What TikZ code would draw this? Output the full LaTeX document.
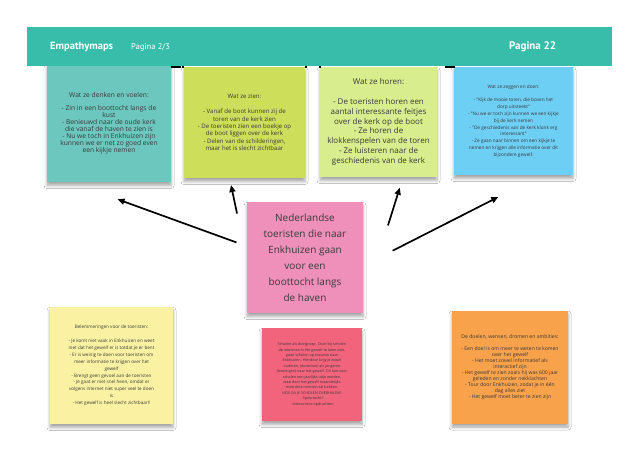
\documentclass[tikz,border=0pt]{standalone}
\usepackage{fontspec}
\setmainfont{Open Sans}
\newfontfamily\headfont{PT Sans}
\usepackage{xcolor}
\usepackage{tikz}
\usetikzlibrary{arrows.meta, shadows.blur}
\definecolor{headbar}{HTML}{38BDAA}
\definecolor{notetext}{HTML}{3A3A3A}
\definecolor{thinkbg}{HTML}{6CC8BF}
\definecolor{seebg}{HTML}{CDDE5A}
\definecolor{hearbg}{HTML}{D8EE8E}
\definecolor{saybg}{HTML}{6ECFF5}
\definecolor{userbg}{HTML}{EE90BA}
\definecolor{painbg}{HTML}{FAF1A2}
\definecolor{ideabg}{HTML}{F2647C}
\definecolor{gainbg}{HTML}{F9A24C}
\newcommand{\fs}[2]{\fontsize{#1}{#2}\selectfont}

\begin{document}
\begin{tikzpicture}[
  x=1pt, y=-1pt,
  note/.style={rectangle, align=center, inner sep=0pt, text=notetext,
               blur shadow={shadow xshift=0pt, shadow yshift=-3.5pt,
                            shadow blur radius=3pt, shadow opacity=35}},
  headtxt/.style={text=white, inner sep=0pt, anchor=west},
  pin/.style={fill=black, inner sep=0pt, minimum height=1.6pt},
  arr/.style={-{Triangle[length=7pt, width=6pt]}, line width=1.7pt, black},
]
\useasboundingbox[fill=white] (0,0) rectangle (638,451);

%% ── Top row: what they think, see, hear, say ─────────────────────────────────
\node[note, fill=thinkbg, minimum width=124pt, minimum height=118pt,
      font=\fs{6.7}{6.9}] (think) at (109,123) {%
  Wat ze denken en voelen:\\[6.9pt]
  - Zin in een boottocht langs de\\ kust\\
  - Benieuwd naar de oude kerk\\ die vanaf de haven te zien is\\
  - Nu we toch in Enkhuizen zijn\\ kunnen we er net zo goed even\\
  een kijkje nemen};

\node[note, fill=seebg, minimum width=121pt, minimum height=111pt,
      font=\fs{6.1}{7.4}] (see) at (244.5,122.5) {%
  Wat ze zien:\\[7.4pt]
  - Vanaf de boot kunnen zij de\\ toren van de kerk zien\\
  - De toeristen zien een boekje op\\ de boot liggen over de kerk\\
  - Delen van de schilderingen,\\ maar het is slecht zichtbaar};

\node[note, fill=hearbg, minimum width=117pt, minimum height=110pt,
      font=\fs{8}{9.8}] (hear) at (378.5,122) {%
  Wat ze horen:\\[9.8pt]
  - De toeristen horen een\\ aantal interessante feitjes\\
  over de kerk op de boot\\ - Ze horen de\\
  klokkenspelen van de toren\\ - Ze luisteren naar de\\
  geschiedenis van de kerk};

\node[note, fill=saybg, minimum width=119pt, minimum height=108pt,
      font=\fs{4.7}{6.8}] (say) at (513.5,121) {%
  Wat ze zeggen en doen:\\[6.8pt]
  - "Kijk de mooie toren, die boven het\\ dorp uitsteekt"\\
  - "Nu we er toch zijn kunnen we een kijkje\\ bij de kerk nemen\\
  - "De geschiedenis van de kerk klonk erg\\ interessant"\\
  - Ze gaan naar binnen om een kijkje te\\
  nemen en krijgen alle informatie over dit\\ bijzondere gewelf.};

%% ── Header bar (lies over the top of the notes) ─────────────────────────────
\fill[headbar] (27,27) rectangle (612,66);
\node[headtxt, font=\headfont\bfseries\fs{10.5}{12}]
  (title) at (50,47) {Empathymaps};
\node[headtxt, font=\headfont\fs{8.5}{10}]
  (part) at (131,47) {Pagina 2/3};
\node[headtxt, font=\headfont\bfseries\fs{11}{13}]
  (page) at (509,47) {Pagina 22};

% small pins at the top corners
\node[pin, minimum width=10pt] (p1) at (176,67) {};
\node[pin, minimum width=2pt]  (p2) at (183,67) {};
\node[pin, minimum width=2pt]  (p3) at (306,67) {};
\node[pin, minimum width=2pt]  (p4) at (320,67) {};
\node[pin, minimum width=10pt] (p5) at (450,67) {};

%% ── Centre: the user ─────────────────────────────────────────────────────────
\node[note, fill=userbg, minimum width=116pt, minimum height=111pt,
      font=\fs{10}{16}] (user) at (305,257.5) {%
  Nederlandse\\ toeristen die naar\\ Enkhuizen gaan\\ voor een\\
  boottocht langs\\ de haven};

%% ── Bottom row: pains, idea, gains ───────────────────────────────────────────
\node[note, fill=painbg, minimum width=123pt, minimum height=117pt,
      font=\fs{4.6}{6.9}] (pains) at (111.5,365.5) {%
  Belemmeringen voor de toeristen:\\[6.9pt]
  - Je komt niet vaak in Enkhuizen en weet\\
  niet dat het gewelf er is totdat je er bent\\
  - Er is weinig te doen voor toeristen om\\
  meer informatie te krijgen over het\\ gewelf\\
  - Brengt geen gevoel aan de toeristen\\
  - Je gaat er niet snel heen, omdat er\\
  volgens internet niet super veel te doen\\ is\\
  - Het gewelf is heel slecht zichtbaar!!};

\node[note, fill=ideabg, minimum width=100pt, minimum height=93pt,
      font=\fs{3.7}{5.4}] (idea) at (312,374.5) {%
  Scholen als doelgroep. Door bij scholen\\
  de interesse in het gewelf te laten zien,\\
  gaan scholen op excursie naar\\
  Enkhuizen. Hierdoor krijg je zowel\\
  ouderen, (docenten) als jongeren\\
  (leerlingen) naar het gewelf. Dit kan voor\\
  scholen een jaarlijks uitje worden,\\
  waardoor het gewelf maandelijks\\
  meerdere mensen zal trekken.\\
  HOE GA JE SCHOLEN OVERHALEN?\\
  - Speurtocht?\\ - Interactieve opdrachten};

\node[note, fill=gainbg, minimum width=116pt, minimum height=113pt,
      font=\fs{5.1}{6}] (gains) at (510,367) {%
  De doelen, wensen, dromen en ambities:\\[6pt]
  - Een doel is om meer te weten te komen\\ over het gewelf\\
  - Het moet zowel informatief als\\ interactief zijn\\
  - Het gewelf te zien zoals hij was 600 jaar\\
  geleden en zonder nekklachten\\
  - Tour door Enkhuizen, zodat je in één\\ dag alles ziet\\
  - Het gewelf moet beter te zien zijn};

%% ── Arrows ───────────────────────────────────────────────────────────────────
\draw[arr, shorten <=11pt, shorten >=50pt] (user.169) -- (think.237);
\draw[arr, shorten <=47pt, shorten >=7pt]  (user.182) -- (see.255);
\draw[arr, shorten <=83pt, shorten >=11pt] (user.321) -- (hear.294);
\draw[arr, shorten <=33pt, shorten >=48pt] (user.352) -- (say.297);

\end{tikzpicture}
\end{document}
